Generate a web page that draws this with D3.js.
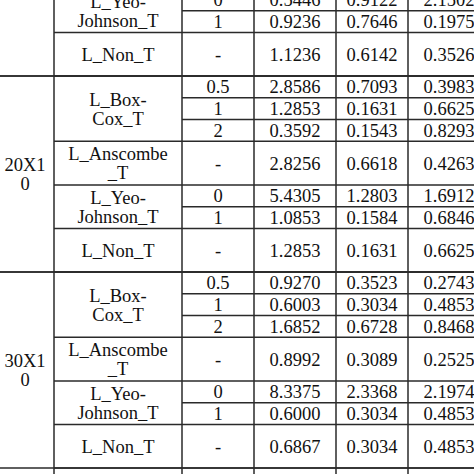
<!DOCTYPE html>
<html><head><meta charset="utf-8">
<script src="https://cdn.jsdelivr.net/npm/d3@7"></script>
<style>body{margin:0;background:#fff}svg{display:block}text{font-family:"Liberation Serif","DejaVu Serif",serif}</style>
</head><body><svg id="c" width="474" height="474"></svg>
<script>
const groups = [["10X1","0"], ["20X1","0"], ["30X1","0"]];
const methods = [["L_Box-","Cox_T"], ["L_Anscombe","_T"], ["L_Yeo-","Johnson_T"], ["L_Non_T"]];
const params = [["0.5","1","2"], ["-"], ["0","1"], ["-"]];
const col1 = [
  [0.9270,0.6003,1.6852, 1.1000, 0.5446,0.9236, 1.1236],
  [2.8586,1.2853,0.3592, 2.8256, 5.4305,1.0853, 1.2853],
  [0.9270,0.6003,1.6852, 0.8992, 8.3375,0.6000, 0.6867]];
const col2 = [
  [0.3523,0.3034,0.6728, 0.3089, 0.9122,0.7646, 0.6142],
  [0.7093,0.1631,0.1543, 0.6618, 1.2803,0.1584, 0.1631],
  [0.3523,0.3034,0.6728, 0.3089, 2.3368,0.3034, 0.3034]];
const col3 = [
  [0.2743,0.4853,0.8468, 0.2525, 2.1502,0.1975, 0.3526],
  [0.3983,0.6625,0.8293, 0.4263, 1.6912,0.6846, 0.6625],
  [0.2743,0.4853,0.8468, 0.2525, 2.1974,0.4853, 0.4853]];

const svg = d3.select("#c");
const y = d3.scaleLinear().domain([0,27]).range([-120,468]);
const colEdges = [0,54,182,254,336,408,490];
const colCenter = i => (colEdges[i]+colEdges[i+1])/2;
const stroke = "#2a2a2a";
const line = (x1,y1,x2,y2)=>svg.append("line").attr("x1",x1).attr("y1",y1).attr("x2",x2).attr("y2",y2).attr("stroke",stroke).attr("stroke-width",1.5);
const text = (cx,cy,lines)=>{
  if (cy < -8) return;
  const lh=19, t=svg.append("text").attr("font-size",18.5).attr("fill","#111").attr("text-anchor","middle");
  lines.forEach((s,i)=>t.append("tspan").attr("x",cx).attr("y",cy+(i-(lines.length-1)/2)*lh).attr("dy","0.35em").text(s));
};
colEdges.slice(1,6).forEach(cx=>line(cx,0,cx,474));
groups.forEach((g,gi)=>{
  let u = gi*9;
  const g0=u;
  line(0,y(u),474,y(u));
  let r=0;
  methods.forEach((m,mi)=>{
    const ps=params[mi];
    const h = ps.length===1?2:1;
    const m0=u;
    ps.forEach((p,pi)=>{
      const top=u, bot=u+h;
      const isLast = pi===ps.length-1;
      line(colEdges[isLast?1:2], y(bot), 474, y(bot));
      const cy=(y(top)+y(bot))/2;
      text(colCenter(2),cy,[p]);
      text(colCenter(3),cy,[col1[gi][r].toFixed(4)]);
      text(colCenter(4),cy,[col2[gi][r].toFixed(4)]);
      text(colCenter(5),cy,[col3[gi][r].toFixed(4)]);
      r++; u=bot;
    });
    text(colCenter(1),(y(m0)+y(u))/2,m);
  });
  text(colCenter(0)-2,(y(g0)+y(u))/2,g);
  line(0,y(u),474,y(u));
});
</script></body></html>
